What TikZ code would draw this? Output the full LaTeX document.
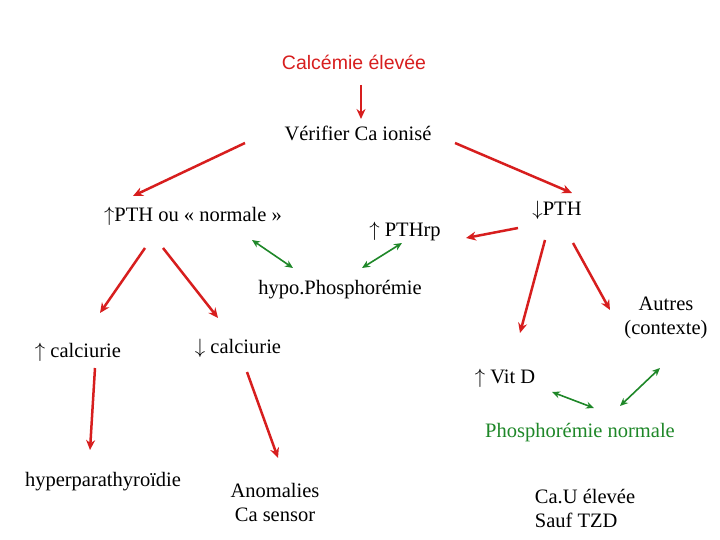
\documentclass[tikz,border=0pt]{standalone}
\usepackage{fontspec}
\setmainfont{Liberation Serif}
\newfontfamily\arialf{Liberation Sans}
\usetikzlibrary{arrows.meta}
\definecolor{rd}{RGB}{215,30,30}
\definecolor{gr}{RGB}{30,135,40}
\begin{document}
\begin{tikzpicture}[x=1pt,y=-1pt,
  lbl/.style={font=\fontsize{20.5}{24}\selectfont,inner sep=0pt,align=center},
  ra/.style={draw=rd,line width=2.5pt,-{Stealth[length=10pt,width=9pt]}},
  ga/.style={draw=gr,line width=1.6pt,{Stealth[length=8pt,width=7pt]}-{Stealth[length=8pt,width=7pt]}}]
\useasboundingbox (0,0) rectangle (720,540);
\node[lbl,text=rd,font=\arialf\fontsize{19.5}{22}\selectfont] (t) at (354,62) {Calcémie élevée};
\node[lbl] (v) at (358,133) {Vérifier Ca ionisé};
\node[lbl] (p1) at (193,216) {$\uparrow$PTH ou « normale »};
\node[lbl] (p2) at (405,231) {$\uparrow$ PTHrp};
\node[lbl] (p3) at (557,210) {$\downarrow$PTH};
\node[lbl] (h) at (340,290) {hypo.Phosphorémie};
\node[lbl] (c1) at (78,352) {$\uparrow$ calciurie};
\node[lbl] (c2) at (238,348) {$\downarrow$ calciurie};
\node[lbl] (au) at (666,318) {Autres\\(contexte)};
\node[lbl] (vd) at (505,378) {$\uparrow$ Vit D};
\node[lbl,text=gr] (pn) at (580,433) {Phosphorémie normale};
\node[lbl] (hy) at (103,482) {hyperparathyroïdie};
\node[lbl] (an) at (275,502) {Anomalies\\Ca sensor};
\node[lbl,align=left] (cu) at (585,508) {Ca.U élevée\\Sauf TZD};
\foreach \n/\a/\b in {a/{361,85}/{361,119}, b/{245,143}/{133,196}, c/{455,143}/{572,193}, d/{518,228}/{466,238},
  e/{145,248}/{100,313}, f/{163,248}/{218,318}, g/{545,240}/{520,333}, k/{573,243}/{610,310},
  m/{95,368}/{90,450}, n/{247,372}/{278,458}}{
  \coordinate (\n s) at (\a); \coordinate (\n e) at (\b); \draw[ra] (\n s) -- (\n e);}
\foreach \n/\a/\b in {o/{252,240}/{293,268}, q/{402,243}/{362,268}, r/{552,392}/{594,408}, s/{660,368}/{620,406}}{
  \coordinate (\n s) at (\a); \coordinate (\n e) at (\b); \draw[ga] (\n s) -- (\n e);}
\end{tikzpicture}
\end{document}
